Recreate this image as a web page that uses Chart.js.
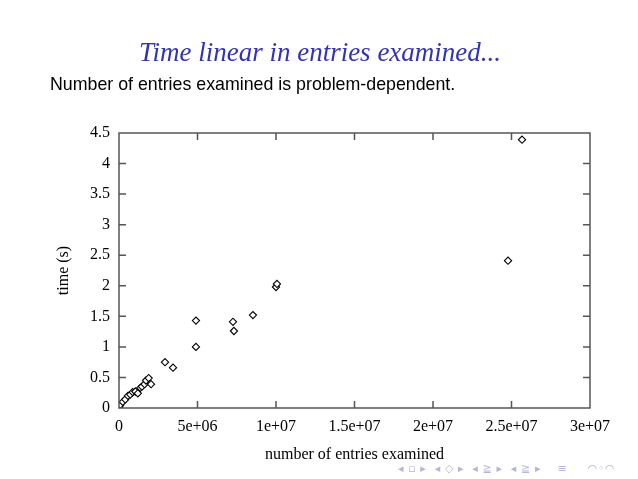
<!DOCTYPE html>
<html>
<head>
<meta charset="utf-8">
<script src="https://cdn.jsdelivr.net/npm/chart.js@4/dist/chart.umd.min.js"></script>
<style>
  html, body { margin: 0; padding: 0; background: #fff; }
  #wrap { position: relative; width: 638px; height: 479px; overflow: hidden; }
  #c { position: absolute; left: 0; top: 0; }
  #title { position: absolute; left: 0; width: 640px; top: 37px; text-align: center;
    font-family: "Liberation Serif", "DejaVu Serif", serif; font-style: italic; font-size: 27px; color: #3333b2; }
  #sub { position: absolute; left: 50px; top: 74px; font-family: "Liberation Sans", "DejaVu Sans", sans-serif;
    font-size: 17.8px; color: #000; }
  #nav { position: absolute; left: 398px; top: 462px; font-family: "DejaVu Sans", sans-serif; font-size: 11px;
    color: #b4b4d6; letter-spacing: 0.6px; white-space: pre; }
</style>
</head>
<body>
<div id="wrap">
  <canvas id="c" width="638" height="479"></canvas>
  <div id="title">Time linear in entries examined...</div>
  <div id="sub">Number of entries examined is problem-dependent.</div>
  <div id="nav">◂ ▫ ▸  ◂ ◇ ▸  ◂ ≧ ▸  ◂ ≧ ▸    ≡     ◠◦◠</div>
</div>
<script>
// Data
const entries = [20000, 80000, 240000, 400000, 570000, 720000, 870000, 1040000, 1200000, 1360000, 1460000, 1630000, 1720000, 1890000, 2040000, 2930000, 3440000, 4900000, 4900000, 7260000, 7320000, 8530000, 10000000, 10060000, 24780000, 25670000];
const times   = [0.02, 0.05, 0.10, 0.14, 0.20, 0.22, 0.26, 0.27, 0.24, 0.33, 0.35, 0.39, 0.45, 0.49, 0.39, 0.75, 0.66, 1.43, 1.00, 1.41, 1.26, 1.52, 1.98, 2.03, 2.41, 4.39];
const xTickValues = [0, 5000000, 10000000, 15000000, 20000000, 25000000, 30000000];
const xTickLabels = ["0", "5e+06", "1e+07", "1.5e+07", "2e+07", "2.5e+07", "3e+07"];
const yTickValues = [0, 0.5, 1, 1.5, 2, 2.5, 3, 3.5, 4, 4.5];
const yTickLabels = ["0", "0.5", "1", "1.5", "2", "2.5", "3", "3.5", "4", "4.5"];
const xTitle = "number of entries examined";
const yTitle = "time (s)";

const points = entries.map((x, i) => ({ x: x, y: times[i] }));
const serif = '"Liberation Serif", "DejaVu Serif", serif';

const frame = {
  id: 'frame',
  afterDraw(chart) {
    const { ctx, chartArea: a, scales } = chart;
    ctx.save();
    ctx.strokeStyle = '#555';
    ctx.lineWidth = 1.5;
    ctx.strokeRect(a.left, a.top, a.right - a.left, a.bottom - a.top);
    const L = 7;
    ctx.beginPath();
    xTickValues.forEach((v, i) => {
      if (i === 0 || i === xTickValues.length - 1) return;
      const px = scales.x.getPixelForValue(v);
      ctx.moveTo(px, a.bottom); ctx.lineTo(px, a.bottom - L);
      ctx.moveTo(px, a.top); ctx.lineTo(px, a.top + L);
    });
    yTickValues.forEach((v, i) => {
      if (i === 0 || i === yTickValues.length - 1) return;
      const py = scales.y.getPixelForValue(v);
      ctx.moveTo(a.left, py); ctx.lineTo(a.left + L, py);
      ctx.moveTo(a.right, py); ctx.lineTo(a.right - L, py);
    });
    ctx.stroke();
    ctx.restore();
  }
};

new Chart(document.getElementById('c'), {
  type: 'scatter',
  data: {
    datasets: [{
      data: points,
      pointStyle: 'rectRot',
      pointRadius: 3.6,
      pointBorderWidth: 1.1,
      pointBorderColor: '#000',
      pointBackgroundColor: '#fff',
      showLine: false
    }]
  },
  options: {
    responsive: false,
    animation: false,
    events: [],
    layout: { padding: { left: 50, right: 48, top: 133, bottom: 15 } },
    plugins: { legend: { display: false }, tooltip: { enabled: false } },
    scales: {
      x: {
        type: 'linear', min: 0, max: 30000000,
        afterFit(s) { s.height = 56; },
        afterBuildTicks(s) { s.ticks = xTickValues.map(v => ({ value: v })); },
        grid: { display: false, drawTicks: false },
        border: { display: false },
        ticks: {
          padding: 9, color: '#000', font: { family: serif, size: 16 },
          maxRotation: 0, autoSkip: false,
          callback: (v) => { const i = xTickValues.indexOf(v); return i >= 0 ? xTickLabels[i] : ''; }
        },
        title: { display: true, text: xTitle, color: '#000', font: { family: serif, size: 16 }, padding: { top: 2, bottom: 0 } }
      },
      y: {
        type: 'linear', min: 0, max: 4.5,
        afterFit(s) { s.width = 69; },
        afterBuildTicks(s) { s.ticks = yTickValues.map(v => ({ value: v })); },
        grid: { display: false, drawTicks: false },
        border: { display: false },
        ticks: {
          padding: 9, color: '#000', font: { family: serif, size: 16 },
          autoSkip: false,
          callback: (v) => { const i = yTickValues.indexOf(v); return i >= 0 ? yTickLabels[i] : ''; }
        },
        title: { display: true, text: yTitle, color: '#000', font: { family: serif, size: 16 }, padding: { top: 4, bottom: 0 } }
      }
    }
  },
  plugins: [frame]
});
</script>
</body>
</html>
